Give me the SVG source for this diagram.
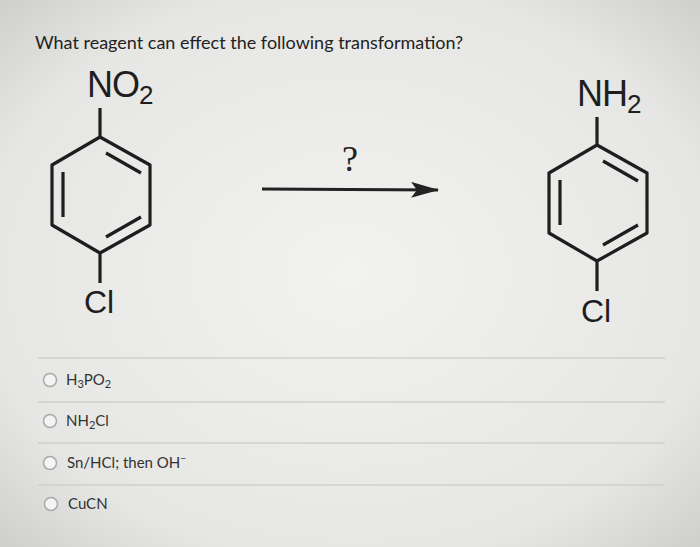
<svg xmlns="http://www.w3.org/2000/svg" width="700" height="547" viewBox="0 0 700 547">
<defs>
<radialGradient id="bg" cx="50%" cy="50%" r="75%"><stop offset="0" stop-color="#f2f2f0"/><stop offset="0.7" stop-color="#e6e6e4"/><stop offset="1" stop-color="#c9c9c7"/></radialGradient>
<marker id="ah" markerWidth="28" markerHeight="16" refX="27" refY="8" orient="auto" markerUnits="userSpaceOnUse"><path d="M0,0 L28,8 L0,16 L6,8z" fill="#222"/></marker>
</defs>
<style>
.b{stroke:#1e1e1e;stroke-width:3.2;fill:none;stroke-linejoin:round}
.t{font-family:"Liberation Sans",Arial,sans-serif;fill:#1e1e1e}
.o{font-family:Lato,"Liberation Sans",sans-serif;fill:#333;font-size:15px}
.r{fill:#f4f4f4;stroke:#aaa;stroke-width:1.5}
.sep{stroke:#cfcfcd;stroke-width:1.5}
</style>
<rect width="700" height="547" fill="url(#bg)"/>
<text x="35" y="49" font-family="Lato,'Liberation Sans',sans-serif" font-size="18" fill="#222">What reagent can effect the following transformation?</text>
<g id="reactant">
<path class="b" d="M100,108V137 M100,137L150,165V225L100,253L52,225V165Z M100,253V283 M106,153L141,173 M63,172V217 M106,237L141,217"/>
<text class="t" x="87" y="97" font-size="36" letter-spacing="-1">NO<tspan font-size="26" dy="7">2</tspan></text>
<text class="t" x="84" y="313" font-size="32">Cl</text>
</g>
<g id="product">
<path class="b" d="M597,117V145 M597,145L647,173V233L597,261L549,233V173Z M597,261V291 M603,161L638,181 M560,180V225 M603,245L638,225"/>
<text class="t" x="577" y="106" font-size="36" letter-spacing="-1">NH<tspan font-size="26" dy="7">2</tspan></text>
<text class="t" x="581" y="322" font-size="32">Cl</text>
</g>
<g id="connectors">
<line x1="262" y1="189" x2="438" y2="190" stroke="#222" stroke-width="3" marker-end="url(#ah)"/>
</g>
<text x="350" y="171" text-anchor="middle" font-family="'Liberation Serif',serif" font-size="36" fill="#222">?</text>
<g id="options">
<line class="sep" x1="38" y1="358" x2="665" y2="358"/>
<line class="sep" x1="38" y1="402" x2="665" y2="402"/>
<line class="sep" x1="38" y1="443" x2="665" y2="443"/>
<line class="sep" x1="38" y1="485" x2="665" y2="485"/>
<circle class="r" cx="50" cy="380" r="6.5"/>
<circle class="r" cx="50" cy="421" r="6.5"/>
<circle class="r" cx="50" cy="463" r="6.5"/>
<circle class="r" cx="51" cy="504" r="6.5"/>
<text class="o" x="66" y="385">H<tspan font-size="11" dy="3">3</tspan><tspan dy="-3">PO</tspan><tspan font-size="11" dy="3">2</tspan></text>
<text class="o" x="66" y="426">NH<tspan font-size="11" dy="3">2</tspan><tspan dy="-3">Cl</tspan></text>
<text class="o" x="67" y="468">Sn/HCl; then OH<tspan font-size="10" dy="-6">−</tspan></text>
<text class="o" x="68" y="509">CuCN</text>
</g>
</svg>
